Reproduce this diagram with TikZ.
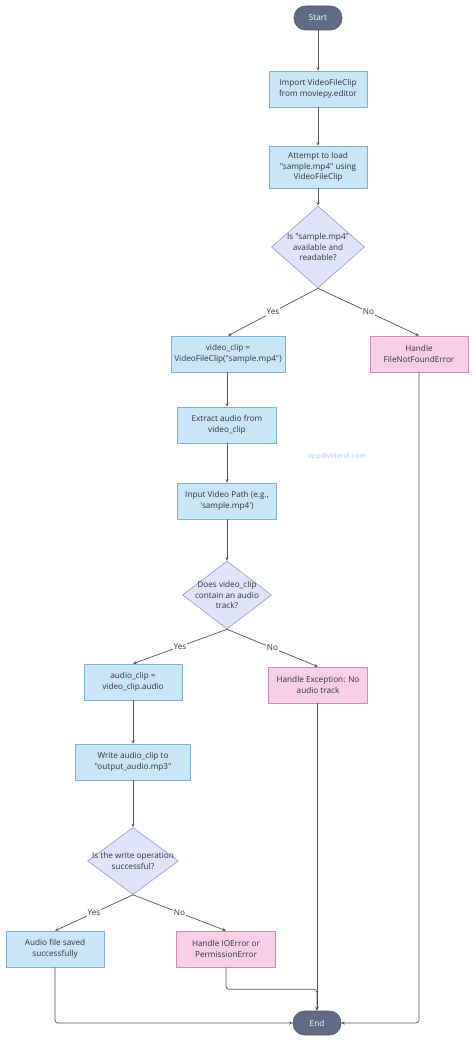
\documentclass[tikz,border=0pt]{standalone}
\usepackage{fontspec}
\setmainfont{Open Sans}[Ligatures=TeXOff]
\usetikzlibrary{arrows.meta,shapes.geometric}
\definecolor{termfill}{HTML}{5F6B85}
\definecolor{termdraw}{HTML}{4E5870}
\definecolor{bluefill}{HTML}{C8E6F8}
\definecolor{bluedraw}{HTML}{7FB0D4}
\definecolor{pinkfill}{HTML}{F8CFE6}
\definecolor{pinkdraw}{HTML}{D288B4}
\definecolor{diafill}{HTML}{E0E4FA}
\definecolor{diadraw}{HTML}{9098D0}
\definecolor{linecol}{HTML}{555555}
\definecolor{textcol}{HTML}{333344}
\definecolor{wmcol}{HTML}{A6C8E6}
\tikzset{
  basefont/.style={font=\fontsize{8.2}{10.8}\selectfont, text=textcol},
  term/.style={basefont, draw=termdraw, fill=termfill, text=white, rounded corners=11.5pt, minimum width=48pt, minimum height=24pt, inner sep=0pt, line width=0.6pt},
  bluebox/.style={basefont, draw=bluedraw, fill=bluefill, minimum height=36pt, inner sep=0pt, align=center, line width=0.6pt},
  pinkbox/.style={basefont, draw=pinkdraw, fill=pinkfill, minimum height=36pt, inner sep=0pt, align=center, line width=0.6pt},
  dia/.style={shape=diamond, draw=diadraw, fill=diafill, inner sep=0pt, line width=0.6pt},
  diatext/.style={basefont, align=center, inner sep=0pt},
  conn/.style={draw=linecol, line width=0.7pt, -{Stealth[length=3.5pt,width=3pt]}},
  lbl/.style={basefont, fill=white, inner sep=1pt},
}
\begin{document}
\begin{tikzpicture}[x=1pt,y=-1pt]
\useasboundingbox (0,0) rectangle (474,1041);
\node[term] (start) at (318,18) {Start};
\node[bluebox, minimum width=98pt] (imp) at (318,89) {Import VideoFileClip\\from moviepy.editor};
\node[bluebox, minimum width=98pt, minimum height=42pt] (att) at (318,167) {Attempt to load\\"sample.mp4" using\\VideoFileClip};
\node[dia, minimum width=93pt, minimum height=82pt, label={[diatext]center:Is "sample.mp4"\\available and\\readable?}] (d1) at (318,247) {};
\node[bluebox, minimum width=114pt] (vc) at (228,354) {video\_clip =\\VideoFileClip("sample.mp4")};
\node[pinkbox, minimum width=98pt] (fnf) at (419,354) {Handle\\FileNotFoundError};
\node[bluebox, minimum width=99pt] (ext) at (227,425) {Extract audio from\\video\_clip};
\node[bluebox, minimum width=99pt] (inp) at (227,501) {Input Video Path (e.g.,\\\symbol{39}sample.mp4\symbol{39})};
\node[font=\fontsize{7.2}{9}\selectfont, text=wmcol, inner sep=0pt] (wm) at (337,457) {appdividend.com};
\node[dia, minimum width=89pt, minimum height=68pt, label={[diatext]center:Does video\_clip\\contain an audio\\track?}] (d2) at (227,595) {};
\node[bluebox, minimum width=98pt] (ac) at (133,682) {audio\_clip =\\video\_clip.audio};
\node[pinkbox, minimum width=99pt] (hex) at (318,685) {Handle Exception: No\\audio track};
\node[bluebox, minimum width=115pt] (wr) at (133,762) {Write audio\_clip to\\"output\_audio.mp3"};
\node[dia, minimum width=91pt, minimum height=67pt, label={[diatext]center:Is the write operation\\successful?}] (d3) at (133,861) {};
\node[bluebox, minimum width=98pt] (sav) at (55,949) {Audio file saved\\successfully};
\node[pinkbox, minimum width=99pt] (ioe) at (226,949) {Handle IOError or\\PermissionError};
\node[term] (end) at (317,1023) {End};

\draw[conn] (start) -- (imp);
\draw[conn] (imp) -- (att);
\draw[conn] (att) -- (d1);
\draw[conn] (d1.south) -- node[lbl]{Yes} (vc.north);
\draw[conn] (d1.south) -- node[lbl]{No} (fnf.north);
\draw[conn] (vc.south -| ext.north) -- (ext.north);
\draw[conn] (ext) -- (inp);
\draw[conn] (inp) -- (d2);
\draw[conn] (d2.south) -- node[lbl]{Yes} (ac.north);
\draw[conn] (d2.south) -- node[lbl]{No} (hex.north);
\draw[conn] (ac) -- (wr);
\draw[conn] (wr) -- (d3);
\draw[conn] (d3.south) -- node[lbl]{Yes} (sav.north);
\draw[conn] (d3.south) -- node[lbl]{No} (ioe.north);
\draw[conn, rounded corners=3pt] (sav.south) |- (end.west);
\draw[conn, rounded corners=3pt] (ioe.south) -- ++(0,22) -| (end.north);
\draw[conn] (hex.south -| end.north) -- (end.north);
\draw[conn, rounded corners=3pt] (fnf.south) |- (end.east);
\end{tikzpicture}
\end{document}
